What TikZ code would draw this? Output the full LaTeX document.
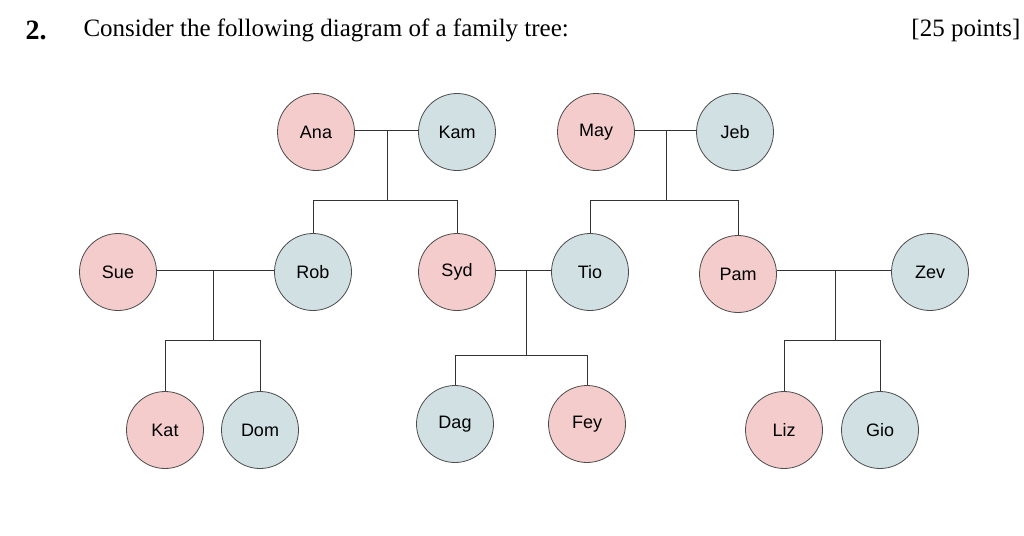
\documentclass[tikz,border=0pt]{standalone}
\usepackage{fontspec}
\setmainfont{Liberation Serif}
\newfontfamily\lab{Liberation Sans}
\definecolor{pk}{HTML}{F4CCCC}
\definecolor{bl}{HTML}{D0E0E3}
\begin{document}
\begin{tikzpicture}[x=1pt,y=-1pt,
  person/.style={circle,draw=black!70,line width=0.8pt,minimum size=77pt,inner sep=0pt,font=\lab\fontsize{18}{21}\selectfont},
  f/.style={person,fill=pk}, m/.style={person,fill=bl},
  ln/.style={draw=black!80,line width=0.8pt}]
\useasboundingbox (0,0) rectangle (1024,535);
\node[anchor=west,font=\bfseries\fontsize{28}{30}\selectfont] (num) at (22,30) {2.};
\node[anchor=west,font=\fontsize{25}{28}\selectfont] (title) at (80,30) {Consider the following diagram of a family tree:};
\node[anchor=east,font=\fontsize{25}{28}\selectfont] (pts) at (1024,30) {[25 points]};
\node[f] (ana) at (316,132) {Ana};
\node[m] (kam) at (457,132) {Kam};
\node[f] (may) at (596,132) {May};
\node[m] (jeb) at (735,132) {Jeb};
\node[f] (sue) at (118,272) {Sue};
\node[m] (rob) at (313,272) {Rob};
\node[f] (syd) at (457,272) {Syd};
\node[m] (tio) at (590,272) {Tio};
\node[f] (pam) at (738,274) {Pam};
\node[m] (zev) at (930,272) {Zev};
\node[f] (kat) at (165,430) {Kat};
\node[m] (dom) at (260,430) {Dom};
\node[m] (dag) at (455,424) {Dag};
\node[f] (fey) at (587,424) {Fey};
\node[f] (liz) at (784,430) {Liz};
\node[m] (gio) at (880,430) {Gio};
\coordinate (j1) at (387,130); \coordinate (j2) at (666,130);
\coordinate (j3) at (213,270); \coordinate (j4) at (526,270); \coordinate (j5) at (835,270);
\draw[ln] (ana.east|-j1) -- (kam.west|-j1);
\draw[ln] (may.east|-j2) -- (jeb.west|-j2);
\draw[ln] (sue.east|-j3) -- (rob.west|-j3);
\draw[ln] (syd.east|-j4) -- (tio.west|-j4);
\draw[ln] (pam.east|-j5) -- (zev.west|-j5);
\draw[ln] (j1) -- (387,200) (rob.north) |- (syd.north|-0,200) -- (syd.north);
\draw[ln] (j2) -- (666,200) (tio.north) |- (pam.north|-0,200) -- (pam.north);
\draw[ln] (j3) -- (213,340) (kat.north) |- (dom.north|-0,340) -- (dom.north);
\draw[ln] (j4) -- (526,355) (dag.north) |- (fey.north|-0,355) -- (fey.north);
\draw[ln] (j5) -- (835,340) (liz.north) |- (gio.north|-0,340) -- (gio.north);
\end{tikzpicture}
\end{document}
